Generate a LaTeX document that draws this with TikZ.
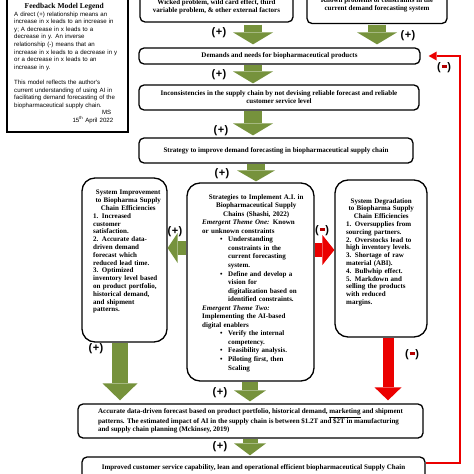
\documentclass[tikz,border=0pt]{standalone}
\usepackage{fontspec}
\setmainfont{Liberation Serif}
\newfontfamily\arialfont{Liberation Sans}
\usetikzlibrary{arrows.meta}
\definecolor{ogreen}{RGB}{118,146,60}
\definecolor{fbred}{RGB}{235,0,0}
\definecolor{darkred}{RGB}{180,0,0}
\newcommand{\plabel}{(\kern0.5pt+\kern0.5pt)}
\newcommand{\mlabel}{(\kern0.8pt\textcolor{darkred}{\rule[2.4pt]{5pt}{3.2pt}}\kern0.8pt)}
\begin{document}
\begin{tikzpicture}[x=1pt,y=-1pt,
  box/.style={draw=black, line width=1.3pt, rounded corners=5pt, inner sep=0pt,
    font=\bfseries\fontsize{7}{8}\selectfont, align=center},
  bigbox/.style={draw=black, line width=1.3pt, rounded corners=13pt, inner sep=0pt},
  bigtext/.style={inner sep=0pt, font=\bfseries\fontsize{7}{7.8}\selectfont},
  legendbox/.style={draw=black, line width=1.6pt, inner sep=0pt},
  sign/.style={inner sep=0pt, font=\arialfont\bfseries\fontsize{11}{11}\selectfont},
  garrow/.style n args={4}{draw=#4, line width=#1, -{Triangle[width=#2, length=#3, line width=0pt]}},
  fbline/.style={draw=fbred, line width=2.4pt, -{Triangle[width=9pt, length=8pt, line width=0pt]}}
]
\clip (0,0) rectangle (474,474);
\fill[white] (0,0) rectangle (474,474);

% legend
\node[legendbox, minimum width=121, minimum height=150] (legend) at (67.5,57) {};
\node[anchor=north west, inner sep=0pt, text width=112pt,
  font=\arialfont\fontsize{6.1}{7.6}\selectfont] (legtxt) at (14,3)
 {{\centering\rmfamily\bfseries\fontsize{7.5}{8}\selectfont Feedback Model Legend\hspace*{12pt}\par}
  \raggedright
  A direct (+) relationship means an\\
  increase in x leads to an increase in\\
  y; A decrease in x leads to a\\
  decrease in y. An inverse\\
  relationship (-) means that an\\
  increase in x leads to a decrease in y\\
  or a decrease in x leads to an\\
  increase in y.\\[7.6pt]
  This model reflects the author's\\
  current understanding of using AI in\\
  facilitating demand forecasting of the\\
  biopharmaceutical supply chain.\\
  \mbox{}\hfill MS\hspace*{15pt}\mbox{}\\
  \mbox{}\hfill 15\textsuperscript{th} April 2022\hspace*{13pt}\mbox{}\par};

% top boxes
\node[box, minimum width=153, minimum height=30] (wicked) at (216.5,7)
  {Wicked problem, wild card effect, third\\ variable problem, \& other external factors};
\node[box, minimum width=140, minimum height=37] (known) at (377,5)
  {Known problems of constraints in the\\ current demand forecasting system};
\node[box, minimum width=281, minimum height=16] (demands) at (279.5,56)
  {Demands and needs for biopharmaceutical products};
\node[box, minimum width=280, minimum height=25] (incons) at (279,97.5)
  {Inconsistencies in the supply chain by not devising reliable forecast and reliable\\ customer service level};
\node[box, minimum width=274, minimum height=25] (strategy) at (276,150.5)
  {Strategy to improve demand forecasting in biopharmaceutical supply chain};

% big boxes
\node[bigbox, minimum width=85, minimum height=164] (left) at (124.5,260) {};
\node[bigbox, minimum width=127, minimum height=198] (mid) at (250.5,282) {};
\node[bigbox, minimum width=92, minimum height=157] (right) at (381,258.5) {};

\node[bigtext, anchor=north west, text width=70pt] (lefttxt) at (93,190)
 {{\centering System Improvement\\ to Biopharma Supply\\ Chain Efficiencies\par}
  \raggedright
  1. Increased\\ customer\\ satisfaction.\\ 2. Accurate data-\\ driven demand\\
  forecast which\\ reduced lead time.\\ 3. Optimized\\ inventory level based\\
  on product portfolio,\\ historical demand,\\ and shipment\\ patterns.\par};

\node[bigtext, anchor=north west, text width=108pt,
  font=\bfseries\fontsize{7}{8.55}\selectfont] (midtxt) at (202,194)
 {{\centering Strategies to Implement A.I. in\\ Biopharmaceutical Supply\\ Chains (Shashi, 2022)\par}
  \raggedright
  \textit{Emergent Theme One:} Known\\
  or unknown constraints\\
  \hspace*{18pt}\makebox[8pt][l]{\textbullet}Understanding\\
  \hspace*{26pt}constraints in the\\
  \hspace*{26pt}current forecasting\\
  \hspace*{26pt}system.\\
  \hspace*{18pt}\makebox[8pt][l]{\textbullet}Define and develop a\\
  \hspace*{26pt}vision for\\
  \hspace*{26pt}digitalization based on\\
  \hspace*{26pt}identified constraints.\\
  \textit{Emergent Theme Two:}\\
  Implementing the AI-based\\
  digital enablers\\
  \hspace*{18pt}\makebox[8pt][l]{\textbullet}Verify the internal\\
  \hspace*{26pt}competency.\\
  \hspace*{18pt}\makebox[8pt][l]{\textbullet}Feasibility analysis.\\
  \hspace*{18pt}\makebox[8pt][l]{\textbullet}Piloting first, then\\
  \hspace*{26pt}Scaling\par};

\node[bigtext, anchor=north west, text width=70pt] (righttxt) at (346,198)
 {{\centering System Degradation\\ to Biopharma Supply\\ Chain Efficiencies\par}
  \raggedright
  1. Oversupplies from\\ sourcing partners.\\ 2. Overstocks lead to\\
  high inventory levels.\\ 3. Shortage of raw\\ material (ABI).\\
  4. Bullwhip effect.\\ 5. Markdown and\\ selling the products\\
  with reduced\\ margins.\par};

% bottom boxes
\node[box, minimum width=345, minimum height=34, align=left] (accurate) at (250.5,421)
  {Accurate data-driven forecast based on product portfolio, historical demand, \underline{marketing} and shipment\\
   patterns. The estimated impact of AI in the supply chain is between \$1.2T and \$2T in manufacturing\\
   and supply chain planning (Mckinsey, 2019)};
\node[box, minimum width=343, minimum height=22] (improved) at (253.5,468)
  {Improved customer service capability, lean and operational efficient biopharmaceutical Supply Chain};

% green / red block arrows
\draw[garrow={18pt}{40pt}{12pt}{ogreen}, shorten <=2pt, shorten >=3pt] (wicked.south -| 253,0) -- (demands.north -| 253,0);
\draw[garrow={18pt}{40pt}{12pt}{ogreen}, shorten <=1pt, shorten >=3pt] (known.south -| 377,0) -- (demands.north -| 377,0);
\draw[garrow={18pt}{40pt}{12pt}{ogreen}, shorten >=1pt] (demands.south -| 253,0) -- (incons.north -| 253,0);
\draw[garrow={18pt}{40pt}{12pt}{ogreen}, shorten >=2pt] (incons.south -| 253,0) -- (strategy.north -| 253,0);
\draw[garrow={18pt}{38pt}{11pt}{ogreen}, shorten >=1pt] (strategy.south -| 256,0) -- (mid.north -| 256,0);
\draw[garrow={14pt}{30pt}{10pt}{ogreen}] (mid.west |- 0,248) -- (left.east |- 0,248);
\draw[garrow={14pt}{30pt}{12pt}{fbred}] (mid.east |- 0,250) -- (right.west |- 0,250);
\draw[garrow={16pt}{35pt}{17pt}{ogreen}, shorten >=3pt] (left.south -| 120,0) -- (accurate.north -| 120,0);
\draw[garrow={16pt}{32pt}{11pt}{ogreen}, shorten >=2pt] (mid.south -| 250,0) -- (accurate.north -| 250,0);
\draw[garrow={11pt}{27pt}{13pt}{fbred}, shorten >=3pt] (right.south -| 388,0) -- (accurate.north -| 388,0);
\draw[garrow={15pt}{32pt}{12pt}{ogreen}, shorten >=1pt] (accurate.south -| 250,0) -- (improved.north -| 250,0);

% feedback loop
\coordinate (fbtop) at (460,56);
\draw[fbline] ([yshift=5pt]improved.east) -| (fbtop) -- ([xshift=8pt]demands.east);

% signs
\node[sign] (s1) at (219,33) {\plabel};
\node[sign] (s2) at (408,36) {\plabel};
\node[sign] (s3) at (219,75) {\plabel};
\node[sign] (s4) at (221,131) {\plabel};
\node[sign] (s5) at (222,174) {\plabel};
\node[sign] (s6) at (175,232) {\plabel};
\node[sign] (s7) at (96,349) {\plabel};
\node[sign] (s8) at (220,393) {\plabel};
\node[sign] (s9) at (220,447) {\plabel};
\node[sign] (m1) at (322,231) {\mlabel};
\node[sign] (m2) at (412,355) {\mlabel};
\node[sign] (m3) at (444,68) {\mlabel};
\end{tikzpicture}
\end{document}
